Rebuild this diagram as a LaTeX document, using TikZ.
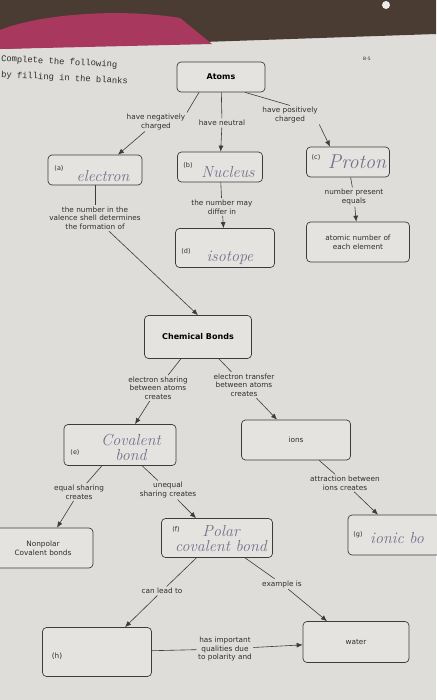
\documentclass[tikz,border=0pt]{standalone}
\usepackage{fontspec}
\newfontfamily\sansf{DejaVu Sans}
\newfontfamily\monof{Liberation Mono}
\usetikzlibrary{arrows.meta,calc}
\definecolor{paper}{HTML}{DEDDDA}
\definecolor{boxfill}{HTML}{E4E3E0}
\definecolor{boxc}{HTML}{3C3C3C}
\definecolor{txt}{HTML}{2E2E2E}
\definecolor{hand}{HTML}{76708A}
\definecolor{darkbg}{HTML}{4A3C33}
\definecolor{pinkbg}{HTML}{A8385E}
\begin{document}
\begin{tikzpicture}[x=1pt,y=-1pt,
  box/.style={draw=boxc, fill=boxfill, rounded corners=4pt, line width=0.7pt, inner sep=2pt},
  lbl/.style={font=\sansf\fontsize{7.3}{8.6}\selectfont, align=center, text=txt, inner sep=1.5pt},
  tag/.style={font=\sansf\fontsize{6.5}{7.5}\selectfont, text=txt, inner sep=0pt},
  hw/.style={font=\itshape\fontsize{16}{15}\selectfont, text=hand, inner sep=0pt, align=left},
  hdrs/.style={font=\monof\fontsize{8.8}{10}\selectfont, text=txt, anchor=west, rotate=-3, inner sep=0pt},
  ln/.style={draw=boxc, line width=0.6pt},
  arr/.style={draw=boxc, line width=0.6pt, -{Latex[length=6pt,width=5pt]}}]
\useasboundingbox (0,0) rectangle (436,700);
% background
\fill[paper] (0,0) rectangle (436,700);
\fill[darkbg] (0,0) -- (436,0) -- (436,34) -- (0,49) -- cycle;
\fill[pinkbg] (0,30) .. controls (40,14) and (120,8) .. (180,18) -- (212,44) -- (0,49) -- cycle;
\fill[white!85!gray] (386,5) circle (4);
% header
\node[hdrs] (hdr1) at (1,59) {Complete the following};
\node[hdrs] (hdr2) at (1,75) {by filling in the blanks};
\node[font=\sansf\fontsize{4.5}{5}\selectfont, text=txt] (pg) at (367,59) {B-5};
% boxes
\node[box, minimum width=88pt, minimum height=30pt] (atoms) at (221,77) {\sansf\bfseries\fontsize{8}{9}\selectfont Atoms};
\node[box, minimum width=94pt, minimum height=30pt] (a) at (95,170) {};
\node[box, minimum width=85pt, minimum height=30pt] (b) at (220,167) {};
\node[box, minimum width=83pt, minimum height=30pt] (c) at (348,162) {};
\node[box, minimum width=99pt, minimum height=39pt] (d) at (225,248) {};
\node[box, minimum width=103pt, minimum height=40pt] (atn) at (358,242) {};
\node[box, minimum width=107pt, minimum height=43pt] (chem) at (198,337) {\sansf\bfseries\fontsize{8}{9}\selectfont Chemical Bonds};
\node[box, minimum width=112pt, minimum height=41pt] (e) at (120,445) {};
\node[box, minimum width=109pt, minimum height=40pt] (ions) at (296,440) {};
\node[box, minimum width=100pt, minimum height=40pt] (np) at (43,548) {};
\node[box, minimum width=111pt, minimum height=39pt] (f) at (217,538) {};
\node[box, minimum width=100pt, minimum height=40pt] (g) at (398,535) {};
\node[box, minimum width=109pt, minimum height=49pt] (h) at (97,652) {};
\node[box, minimum width=106pt, minimum height=41pt] (water) at (356,642) {};
% box texts
\node[lbl] (tions) at (ions.center) {ions};
\node[lbl] (tatn) at (atn.center) {atomic number of\\each element};
\node[lbl] (tnp) at (np.center) {Nonpolar\\Covalent bonds};
\node[lbl] (twater) at (water.center) {water};
\node[tag] (ta) at (59,168) {(a)};
\node[tag] (tb) at (188,165) {(b)};
\node[tag] (tc) at (316,157) {(c)};
\node[tag] (td) at (186,251) {(d)};
\node[tag] (te) at (75,452) {(e)};
\node[tag] (tf) at (176,529) {(f)};
\node[tag] (tg) at (358,535) {(g)};
\node[lbl] (th) at (57,656) {(h)};
% handwriting
\node[hw] (wa) at (103,176) {electron};
\node[hw] (wb) at (228,172) {Nucleus};
\node[hw, font=\itshape\fontsize{20}{18}\selectfont] (wc) at (357,162) {Proton};
\node[hw] (wd) at (230,258) {isotope};
\node[hw, align=center] (we) at (131,447) {Covalent\\bond};
\node[hw, align=center] (wf) at (221,539) {Polar\\covalent bond};
\node[hw, anchor=west] (wg) at (370,538) {ionic bo};
% labels
\node[lbl] (l1) at (156,122) {have negatively\\charged};
\node[lbl] (l2) at (222,123) {have neutral};
\node[lbl] (l3) at (290,115) {have positively\\charged};
\node[lbl] (l4) at (95,218) {the number in the\\valence shell determines\\the formation of};
\node[lbl] (l5) at (222,207) {the number may\\differ in};
\node[lbl] (l6) at (354,197) {number present\\equals};
\node[lbl] (l7) at (158,388) {electron sharing\\between atoms\\creates};
\node[lbl] (l8) at (244,385) {electron transfer\\between atoms\\creates};
\node[lbl] (l9) at (79,492) {equal sharing\\creates};
\node[lbl] (l10) at (168,490) {unequal\\sharing creates};
\node[lbl] (l11) at (345,483) {attraction between\\ions creates};
\node[lbl] (l12) at (162,591) {can lead to};
\node[lbl] (l13) at (282,584) {example is};
\node[lbl] (l14) at (225,649) {has important\\qualities due\\to polarity and};
% connectors
\draw[ln] ($(atoms.south)+(-22,0)$) -- (l1.north east);
\draw[arr] (l1) -- ($(a.north)+(23,0)$);
\draw[ln] (atoms) -- (l2);
\draw[arr] (l2) -- (b);
\draw[ln] ($(atoms.south)+(24,0)$) -- (l3.north);
\draw[arr] (l3.south east) -- ($(c.north)+(-18,0)$);
\draw[ln] (a) -- (l4);
\draw[arr] (l4) -- (chem.north);
\draw[ln] (b) -- (l5);
\draw[arr] (l5) -- (d);
\draw[ln] (c) -- (l6);
\draw[arr] (l6) -- (atn);
\draw[ln] (chem) -- (l7);
\draw[arr] (l7) -- ($(e.north)+(15,0)$);
\draw[ln] (chem) -- (l8);
\draw[arr] (l8) -- ($(ions.north)+(-19,0)$);
\draw[ln] (e) -- (l9);
\draw[arr] (l9) -- ($(np.north)+(14,0)$);
\draw[ln] (e) -- (l10);
\draw[arr] (l10) -- ($(f.north)+(-21,0)$);
\draw[ln] (ions) -- (l11);
\draw[arr] (l11) -- ($(g.north)+(-20,0)$);
\draw[ln] (f) -- (l12);
\draw[arr] (l12) -- ($(h.north)+(28,0)$);
\draw[ln] (f) -- (l13);
\draw[arr] (l13) -- ($(water.north)+(-29,0)$);
\draw[ln] (h) -- (l14);
\draw[arr] (l14) -- (water);
\end{tikzpicture}
\end{document}
